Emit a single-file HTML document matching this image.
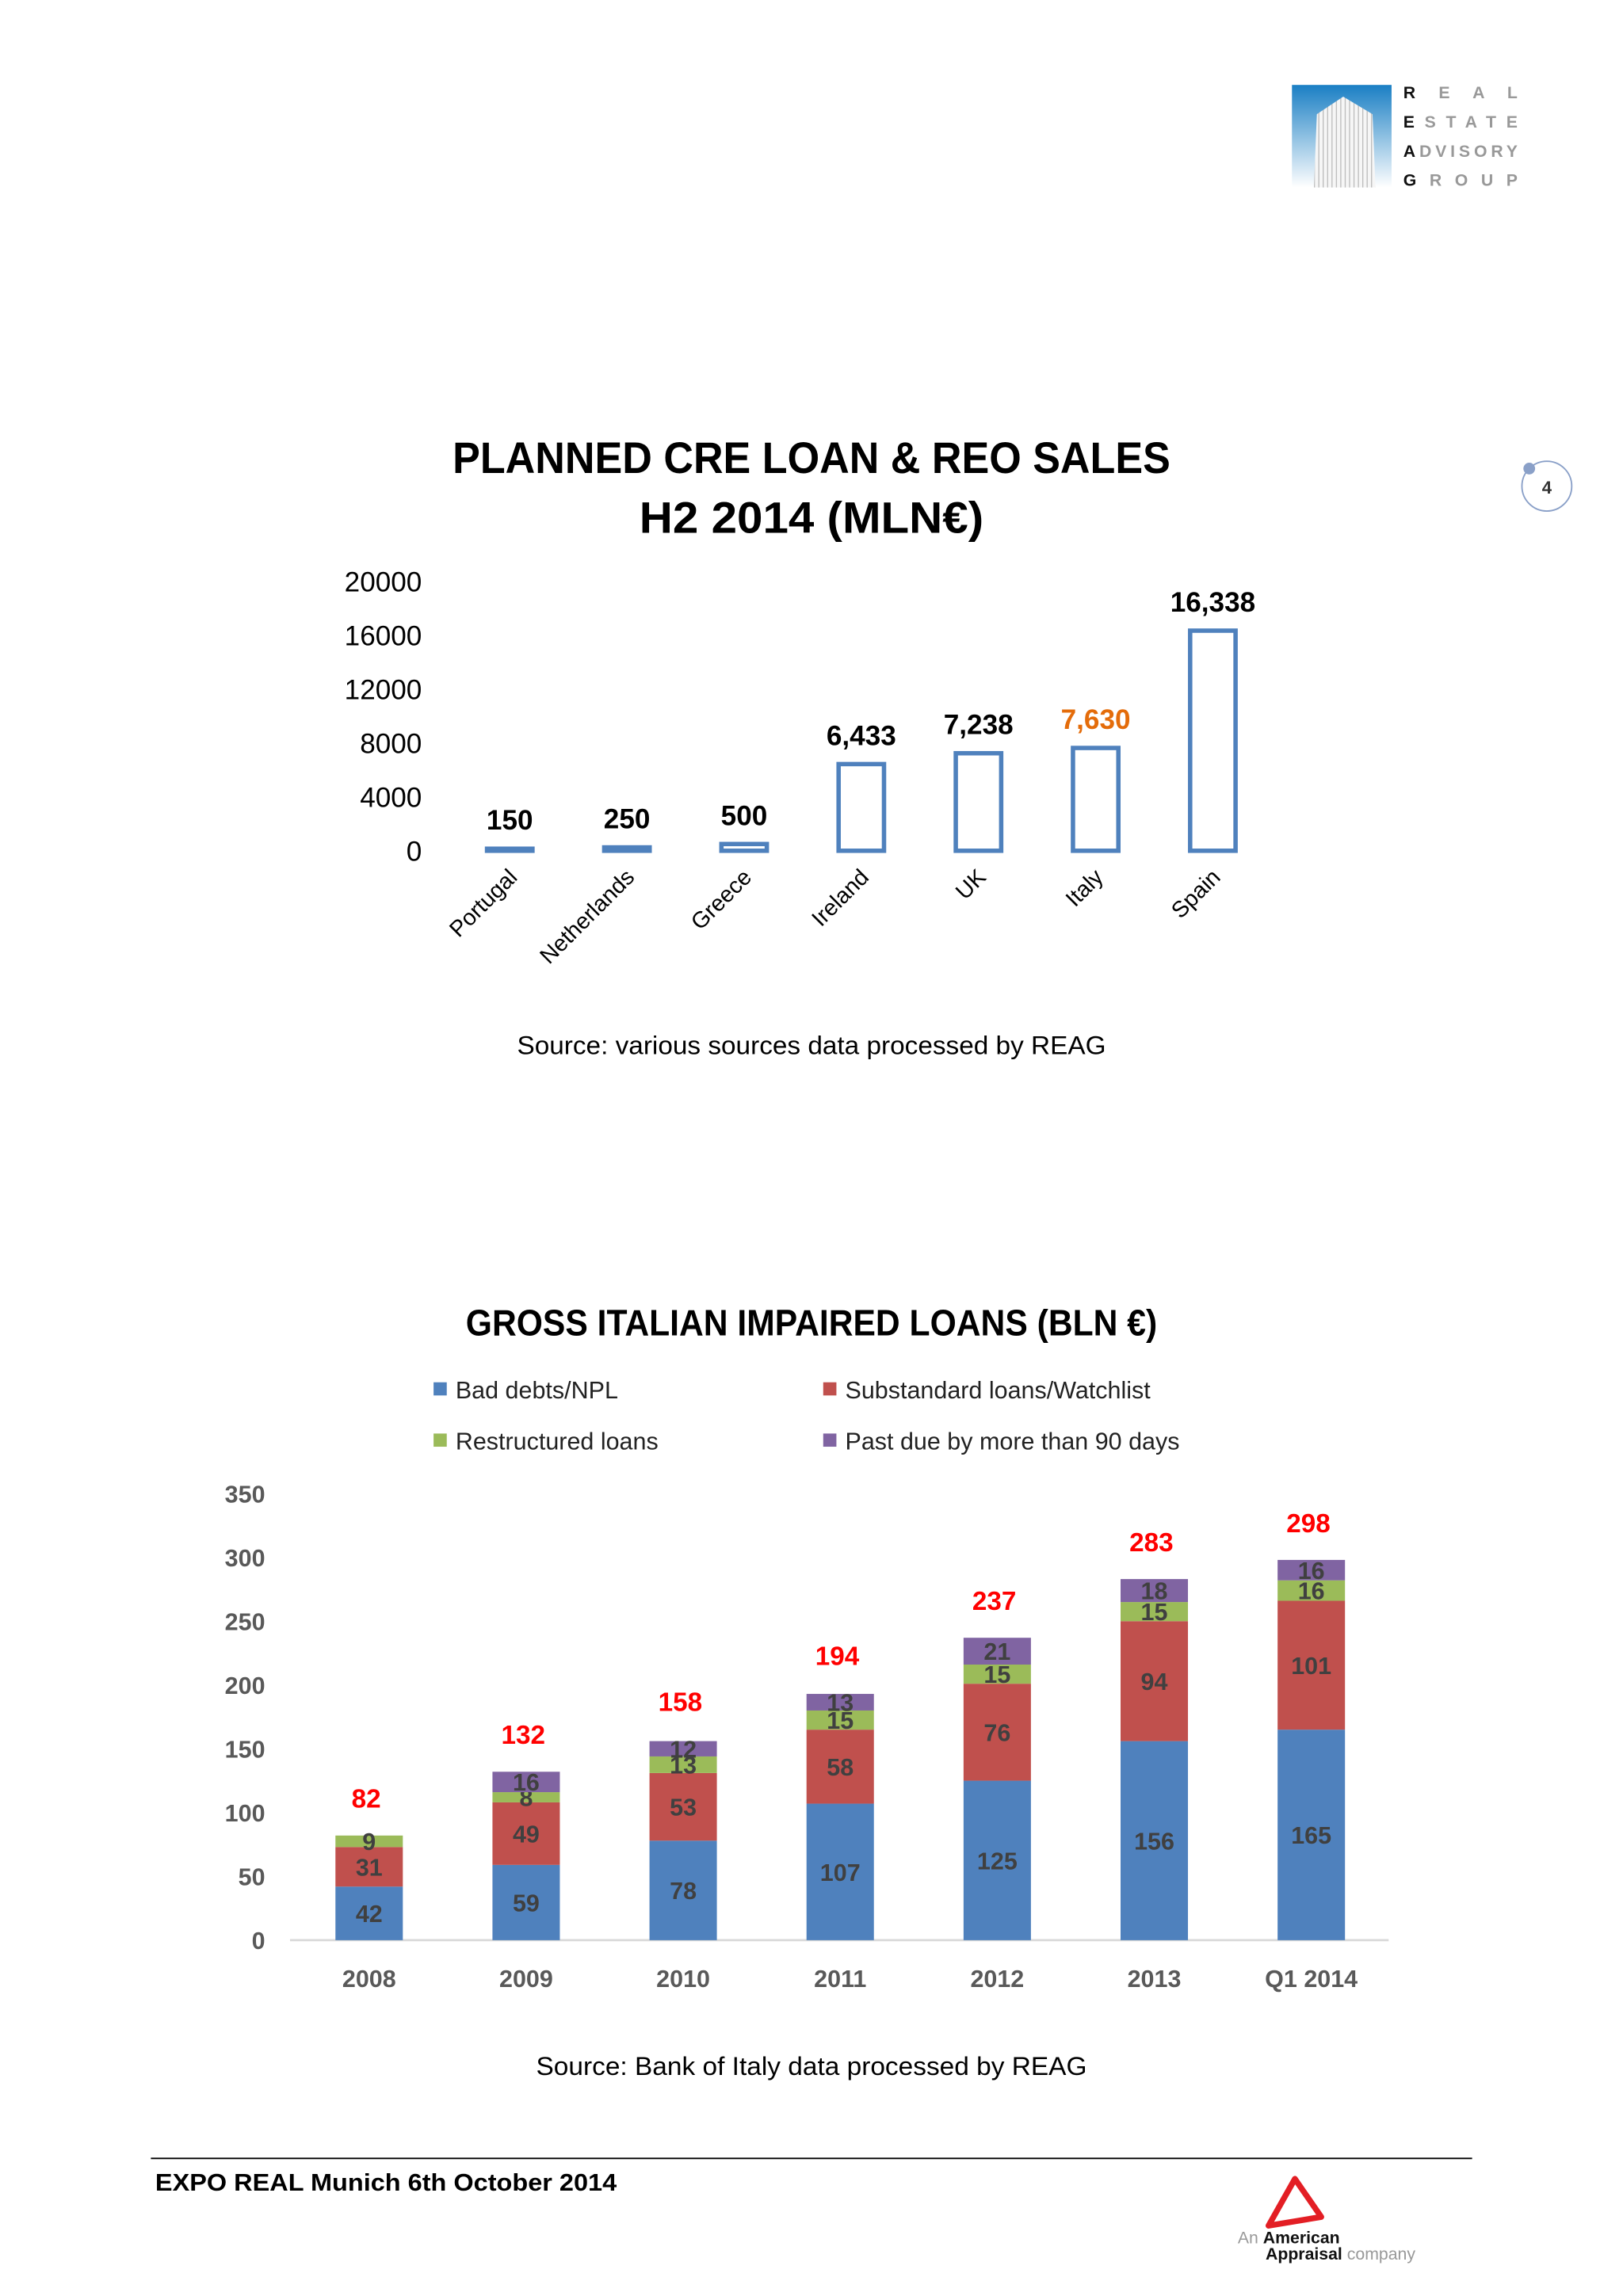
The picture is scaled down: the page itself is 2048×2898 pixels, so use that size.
<!DOCTYPE html>
<html><head><meta charset="utf-8"><style>
html,body{margin:0;padding:0;background:#fff}
svg{display:block}
text{font-family:"Liberation Sans",sans-serif}
</style></head><body>
<svg id="page" width="2048" height="2898" viewBox="0 0 1108 1568" preserveAspectRatio="none" xmlns="http://www.w3.org/2000/svg">
<defs>
<linearGradient id="sky" x1="0" y1="0" x2="0" y2="1"><stop offset="0" stop-color="#1a7fc4"/><stop offset="1" stop-color="#ffffff"/></linearGradient>
<pattern id="stripes" width="3" height="10" patternUnits="userSpaceOnUse"><rect width="3" height="10" fill="#f6f6f6"/><rect width="0.7" height="10" fill="#bbb"/></pattern>
</defs>
<g>
<rect x="882" y="58" width="68" height="70" fill="url(#sky)"/>
<polygon points="897,128 899,78 917,66 937,78 939,128" fill="url(#stripes)"/>
<g font-family="Liberation Serif" font-size="11.5" font-weight="bold" fill="#999">
<text x="958" y="67" textLength="78"><tspan fill="#111">R</tspan> E A L</text>
<text x="958" y="87" textLength="78"><tspan fill="#111">E</tspan>STATE</text>
<text x="958" y="107" textLength="78"><tspan fill="#111">A</tspan>DVISORY</text>
<text x="958" y="127" textLength="78"><tspan fill="#111">G</tspan> R O U P</text>
</g>
</g>
<g>
<circle cx="1056" cy="332" r="17" fill="#fff" stroke="#8aa0c8" stroke-width="1"/>
<circle cx="1044" cy="320" r="4" fill="#8aa0c8"/>
<text x="1056" y="337" font-size="12" font-weight="bold" text-anchor="middle" fill="#333">4</text>
</g>

<g id="chart1">
<text x="554" y="323" font-size="30" font-weight="bold" text-anchor="middle" textLength="490" lengthAdjust="spacingAndGlyphs">PLANNED CRE LOAN &amp; REO SALES</text>
<text x="554" y="364" font-size="30" font-weight="bold" text-anchor="middle" textLength="235" lengthAdjust="spacingAndGlyphs">H2 2014 (MLN€)</text>
<text x="554" y="720" font-size="17.5" text-anchor="middle" textLength="402" lengthAdjust="spacingAndGlyphs">Source: various sources data processed by REAG</text>
</g>

<g id="chart2">
<text x="554" y="912" font-size="25" font-weight="bold" text-anchor="middle" textLength="472" lengthAdjust="spacingAndGlyphs">GROSS ITALIAN IMPAIRED LOANS (BLN €)</text>
<line x1="198" y1="1325" x2="948" y2="1325" stroke="#d9d9d9" stroke-width="1.5"/>
<text x="554" y="1417" font-size="17.5" text-anchor="middle" textLength="376" lengthAdjust="spacingAndGlyphs">Source: Bank of Italy data processed by REAG</text>
</g>

<g>
<line x1="103" y1="1474" x2="1005" y2="1474" stroke="#000" stroke-width="1"/>
<text x="106" y="1496" font-size="16.5" font-weight="bold" textLength="315" lengthAdjust="spacingAndGlyphs">EXPO REAL Munich 6th October 2014</text>
<g>
<polygon points="884,1488 902,1514 866,1520" fill="none" stroke="#e31e24" stroke-width="4" stroke-linejoin="round"/>
<text x="845" y="1532" font-size="11.5" fill="#999">An <tspan fill="#111" font-weight="bold">American</tspan></text>
<text x="864" y="1543" font-size="11.5" fill="#999"><tspan fill="#111" font-weight="bold">Appraisal</tspan> company</text>
</g>
</g>
</svg>
<script>
var NS='http://www.w3.org/2000/svg';
// Chart 1 data
var countries=['Portugal','Netherlands','Greece','Ireland','UK','Italy','Spain'];
var sales=[150,250,500,6433,7238,7630,16338];
var salesLabels=['150','250','500','6,433','7,238','7,630','16,338'];
var yTicks1=[0,4000,8000,12000,16000,20000];
// Chart 2 data
var years=['2008','2009','2010','2011','2012','2013','Q1 2014'];
var badDebts=[42,59,78,107,125,156,165];
var substandard=[31,49,53,58,76,94,101];
var restructured=[9,8,13,15,15,15,16];
var pastDue=[0,16,12,13,21,18,16];
var totals=[82,132,158,194,237,283,298];
var yTicks2=[0,50,100,150,200,250,300,350];
var seriesNames=['Bad debts/NPL','Substandard loans/Watchlist','Restructured loans','Past due by more than 90 days'];

function mk(tag,attrs,parent,txt){var e=document.createElementNS(NS,tag);for(var k in attrs)e.setAttribute(k,attrs[k]);if(txt!==undefined)e.textContent=txt;parent.appendChild(e);return e;}

var c1=document.getElementById('chart1');
function y1(v){return 581-v*(581-397)/20000;}
function x1(i){return 348+i*80;}
yTicks1.forEach(function(t){
  var e=mk('text',{x:288,y:y1(t)+7,'font-size':19,'text-anchor':'end'},c1,String(t));
  
  
});
countries.forEach(function(c,i){
  var top=y1(sales[i]);
  var b=mk('rect',{x:x1(i)-15.5,y:top,width:31,height:Math.max(581-top,1),fill:'none',stroke:'#4f81bd','stroke-width':3},c1);
  
  
  var l=mk('text',{x:x1(i),y:top-13,'font-size':19,'font-weight':'bold','text-anchor':'middle',fill:(c==='Italy'?'#e46c0a':'#000')},c1,salesLabels[i]);
  
  
  var xl=mk('text',{x:x1(i)+6,y:600,'font-size':15.5,'text-anchor':'end',transform:'rotate(-45 '+(x1(i)+6)+' 600)'},c1,c);
  
  
});

var c2=document.getElementById('chart2');
function y2(v){return 1325-v*(1325-1020)/350;}
function x2(i){return 252+i*107.2;}
var colors=['#4f81bd','#c0504d','#9bbb59','#8064a2'];
var legPos=[[296,949],[562,949],[296,984],[562,984]];
seriesNames.forEach(function(n,k){
  var s=mk('rect',{x:legPos[k][0],y:legPos[k][1]-5,width:9,height:9,fill:colors[k]},c2);
  
  
  var t=mk('text',{x:legPos[k][0]+15,y:legPos[k][1]+6,'font-size':16.5,fill:'#222'},c2,n);
  
  
});
yTicks2.forEach(function(t){
  var e=mk('text',{x:181,y:y2(t)+6,'font-size':16.5,'font-weight':'bold','text-anchor':'end',fill:'#595959'},c2,String(t));
  
  
});
var series=[badDebts,substandard,restructured,pastDue];
years.forEach(function(yr,i){
  var base=0;
  series.forEach(function(arr,k){
    var v=arr[i];
    if(v>0){
      var r=mk('rect',{x:x2(i)-23,y:y2(base+v),width:46,height:y2(base)-y2(base+v),fill:colors[k]},c2);
      
      
      var cy=(y2(base)+y2(base+v))/2;
      var l=mk('text',{x:x2(i),y:cy+6,'font-size':16.5,'font-weight':'bold','text-anchor':'middle',fill:'#404040'},c2,String(v));
      
      
    }
    base+=v;
  });
  var tl=mk('text',{x:x2(i)-2,y:y2(totals[i])-19,'font-size':18,'font-weight':'bold','text-anchor':'middle',fill:'#ff0000'},c2,String(totals[i]));
  
  
  var xl=mk('text',{x:x2(i),y:1357,'font-size':16.5,'font-weight':'bold','text-anchor':'middle',fill:'#595959'},c2,yr);
  
  
});
</script>
</body></html>
